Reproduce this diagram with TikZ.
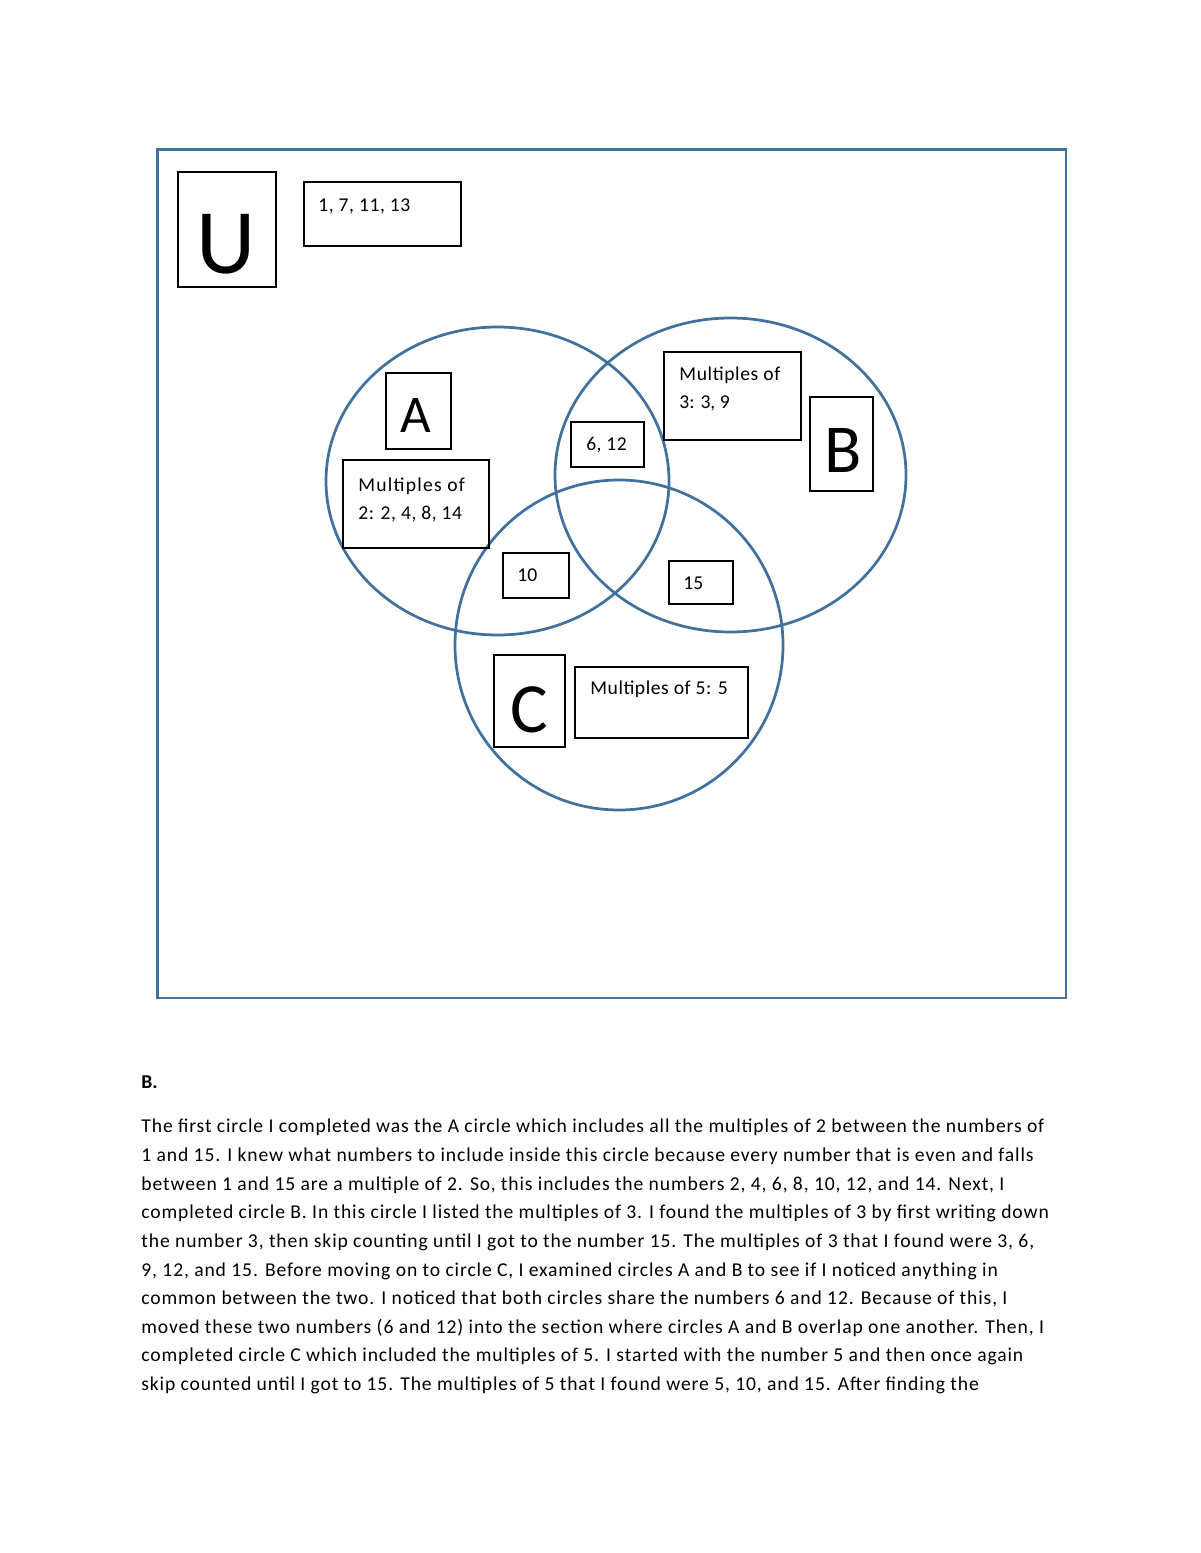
\documentclass[tikz,border=0pt]{standalone}
\usepackage{fontspec}
\setmainfont{Carlito}
\usepackage{tikz}

\definecolor{vennblue}{RGB}{65,113,156}
\newcommand{\spaced}[1]{\addfontfeature{LetterSpace=#1}}

\begin{document}
\begin{tikzpicture}[x=0.51pt,y=0.51pt,yscale=-1,xscale=1]
                %set diagram: page of 1200 x 1553
                \useasboundingbox (0,0) rectangle (1200,1553);
                
                %Shape: Rectangle [frame]
                \draw  [color=vennblue ,line width=1.4pt ] (157.5,149.5) -- (1066,149.5) -- (1066,998) -- (157.5,998) -- cycle ;
                
                %Shape: Ellipse [circle A]
                \draw  [color=vennblue ,line width=1.4pt ] (497.5,481) ellipse (171.5 and 154) ;
                %Shape: Ellipse [circle B]
                \draw  [color=vennblue ,line width=1.4pt ] (730.5,475) ellipse (175.5 and 157) ;
                %Shape: Ellipse [circle C]
                \draw  [color=vennblue ,line width=1.4pt ] (619,645) ellipse (164 and 165) ;
                
                %Shape: Rectangle [boxes]
                \draw  [line width=0.7pt ] (178,172) rectangle (276,287) ;
                \draw  [line width=0.7pt ] (304,182) rectangle (461,246) ;
                \draw  [line width=0.7pt ] (386,373) rectangle (451,449) ;
                \draw  [line width=0.7pt ] (343,460) rectangle (489,548) ;
                \draw  [line width=0.7pt ] (571,422) rectangle (644,467) ;
                \draw  [line width=0.7pt ] (664,352) rectangle (801,440) ;
                \draw  [line width=0.7pt ] (810,397) rectangle (873,491) ;
                \draw  [line width=0.7pt ] (503,553) rectangle (569,598) ;
                \draw  [line width=0.7pt ] (669,561) rectangle (733,604) ;
                \draw  [line width=0.7pt ] (494,655) rectangle (565,747) ;
                \draw  [line width=0.7pt ] (575,667) rectangle (748,738) ;
                
                % Text Node
                \draw (226,273) node (labU) [anchor=base][inner sep=0pt] {\fontsize{47}{47}\selectfont U};
                % Text Node
                \draw (416,432) node (labA) [anchor=base][inner sep=0pt] {\fontsize{27}{27}\selectfont A};
                % Text Node
                \draw (843,472) node (labB) [anchor=base][inner sep=0pt] {\fontsize{35}{35}\selectfont B};
                % Text Node
                \draw (529,732) node (labC) [anchor=base][inner sep=0pt] {\fontsize{36}{36}\selectfont C};
                
                % Text Node
                \draw (318,212) node (setU) [anchor=base west][inner sep=0pt] {\spaced{2.7}1, 7, 11, 13};
                % Text Node
                \draw (358,491) node (setA) [anchor=base west][inner sep=0pt] {\spaced{6.3}Multiples of};
                \draw (358,519) node (setAb) [anchor=base west][inner sep=0pt] {\spaced{2.7}2: 2, 4, 8, 14};
                % Text Node
                \draw (586,450) node (setAB) [anchor=base west][inner sep=0pt] {\spaced{2}6, 12};
                % Text Node
                \draw (679,380) node (setB) [anchor=base west][inner sep=0pt] {\spaced{3.1}Multiples of};
                \draw (679,408) node (setBb) [anchor=base west][inner sep=0pt] {3: 3, 9};
                % Text Node
                \draw (517,581) node (setAC) [anchor=base west][inner sep=0pt] {10};
                % Text Node
                \draw (683,589) node (setBC) [anchor=base west][inner sep=0pt] {15};
                % Text Node
                \draw (590,694) node (setC) [anchor=base west][inner sep=0pt] {\spaced{2.7}Multiples of 5: 5};
                
                % Text Node
                \draw (141,1088) node (partB) [anchor=base west][inner sep=0pt] {\textbf{B.}};
                
                % Text Nodes [paragraph]
                \foreach \yy/\ln in {1132/{The first circle I completed was the A circle which includes all the multiples of 2 between the numbers of},
                    1161/{1 and 15. I knew what numbers to include inside this circle because every number that is even and falls},
                    1190/{between 1 and 15 are a multiple of 2. So, this includes the numbers 2, 4, 6, 8, 10, 12, and 14. Next, I},
                    1218/{completed circle B. In this circle I listed the multiples of 3. I found the multiples of 3 by first writing down},
                    1247/{the number 3, then skip counting until I got to the number 15. The multiples of 3 that I found were 3, 6,},
                    1276/{9, 12, and 15. Before moving on to circle C, I examined circles A and B to see if I noticed anything in},
                    1304/{common between the two. I noticed that both circles share the numbers 6 and 12. Because of this, I},
                    1333/{moved these two numbers (6 and 12) into the section where circles A and B overlap one another. Then, I},
                    1361/{completed circle C which included the multiples of 5. I started with the number 5 and then once again},
                    1390/{skip counted until I got to 15. The multiples of 5 that I found were 5, 10, and 15. After finding the}}
                  \draw (141,\yy) node (line\yy) [anchor=base west][inner sep=0pt] {\spaced{4.5}\ln};
                
                \end{tikzpicture}
\end{document}
